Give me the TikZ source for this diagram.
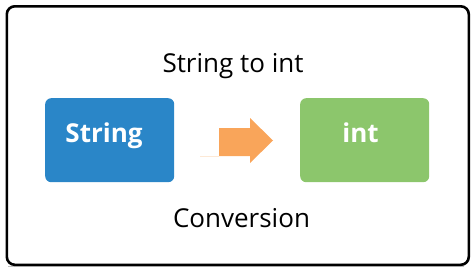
\documentclass[tikz,border=0pt]{standalone}
\usepackage{fontspec}
\setmainfont{Open Sans}
\definecolor{boxblue}{HTML}{2A86C8}
\definecolor{boxgreen}{HTML}{8CC66C}
\definecolor{arroworange}{HTML}{F9A55A}
\begin{document}
\begin{tikzpicture}[x=1pt,y=-1pt,
  frame/.style={draw=black,line width=2.6pt,rounded corners=8pt},
  typebox/.style={rounded corners=6pt,minimum width=129pt,minimum height=84pt,inner sep=0pt},
  boxtext/.style={font=\fontsize{26}{30}\selectfont\bfseries,text=white,anchor=base,inner sep=0pt},
  caption/.style={font=\fontsize{26}{30}\selectfont,text=black,inner sep=0pt,anchor=base}]
\useasboundingbox (0,0) rectangle (474,268);
\draw[black!25,line width=1.5pt] (8,266.5) -- (464,266.5);
\node[frame,minimum width=462pt,minimum height=258.5pt,anchor=north west,inner sep=0pt] (outer) at (5.5,5) {};
\node[caption] (title) at (233,72) {String to int};
\node[typebox,fill=boxblue,anchor=north west] (src) at (45,98) {};
\node[boxtext] (srct) at (104,142) {String};
\node[typebox,fill=boxgreen,anchor=north west] (dst) at (300,98) {};
\node[boxtext] (dstt) at (360.5,142) {int};
\fill[arroworange] (219,128) -- (250,128) -- (250,118) -- (273,140.5) -- (250,163) -- (250,156) -- (219,156) -- cycle;
\draw[arroworange!25,line width=0.6pt] (200,156) -- (219,156);
\node[caption] (conv) at (241.5,227) {Conversion};
\end{tikzpicture}
\end{document}
